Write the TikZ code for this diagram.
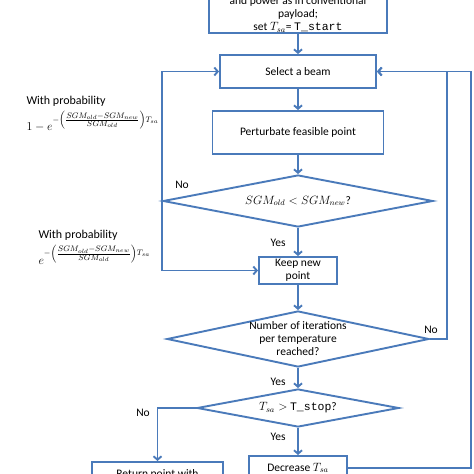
\documentclass[tikz,border=0pt]{standalone}
\usepackage{fontspec}
\setmainfont{Carlito}
\setmonofont{Liberation Mono}
\usepackage{xcolor}
\usetikzlibrary{backgrounds,calc,positioning}
\usetikzlibrary{shapes.geometric,arrows.meta}

\definecolor{flowblue}{RGB}{74,122,186}
\tikzset{
	box/.style = {draw=flowblue, line width=1.9pt, fill=white, align=center, inner sep=2pt},
	decision/.style = {diamond, draw=flowblue, line width=1.9pt, fill=white, align=center, inner sep=0pt, aspect=4.7},
	flow/.style = {draw=flowblue, line width=1.9pt, -{Straight Barb[length=3.5pt,width=8pt]}},
}
\newcommand{\sgmfrac}{\left(\frac{\scriptstyle SGM_{old}-SGM_{new}}{\scriptstyle SGM_{old}}\right)T_{sa}}

\begin{document}
\begin{tikzpicture}[x=1pt, y=1pt, font=\fontsize{11.5}{13}\selectfont]
		\useasboundingbox (0,0) rectangle (474,474);
		\begin{scope}
			% main column
			\node[box, anchor=south, inner ysep=0.5pt, minimum width=178] (init) at (298,440) {and power as in conventional\\payload;\\set $T_{sa}$= \texttt{T\_start}};
			\node[box, minimum width=156, minimum height=33] (sel) at (298,402.5) {Select a beam};
			\node[box, minimum width=171, minimum height=43] (pert) at (298,341.5) {Perturbate feasible point};
			\node[decision, minimum width=270, minimum height=52] (cmp) at (298,273) {$SGM_{old} < SGM_{new}$?};
			\node[box, minimum width=78, minimum height=27] (keep) at (298,203.5) {Keep new\\point};
			\node[decision, inner sep=-4pt, minimum width=262, minimum height=56] (iter) at (298,135) {Number of iterations\\per temperature\\reached?};
			\node[decision, minimum width=202, minimum height=38] (stop) at (298,66) {$T_{sa} >$ \texttt{T\_stop}?};
			\node[box, anchor=north, minimum width=98, minimum height=24] (dec) at (298,19) {Decrease $T_{sa}$};
			\node[box, anchor=north, minimum width=131, minimum height=24] (ret) at (157.5,13) {Return point with};

			% loop corners
			\coordinate (loopN) at (447,402.5);
			\coordinate (loopR) at (471,402.5);

			\draw[flow] (init) -- (sel);
			\draw[flow] (sel) -- (pert);
			\draw[flow] (pert) -- (cmp);
			\draw[flow] (cmp) -- (keep);
			\draw[flow] (keep) -- (iter);
			\draw[flow] (iter) -- (stop);
			\draw[flow] (stop) -- (dec);
			\draw[flow] (cmp.west) |- (sel.west);
			\draw[flow] (cmp.west) |- (keep.west);
			\draw[flow] (iter.east) -| (loopN) -- (sel.east);
			\draw[flow] (dec.east) -| (loopR) -- (sel.east);
			\draw[flow] (stop.west) -| (ret.north);

			\node (yes1) at (278,231) {Yes};
			\node (yes2) at (278,92) {Yes};
			\node (yes3) at (278,37) {Yes};
			\node (no1) at (182,289) {No};
			\node (no2) at (431,144) {No};
			\node (no3) at (143,61) {No};

			% acceptance probabilities
			\node[anchor=west, align=left, font=\fontsize{12}{15}\selectfont] (pacc) at (23,360) {With probability\\[4pt]$1-e^{-\sgmfrac}$};
			\node[anchor=west, align=left, font=\fontsize{12}{15}\selectfont] (pkeep) at (35,227) {With probability\\[4pt]$e^{-\sgmfrac}$};
		\end{scope}
	\end{tikzpicture}
\end{document}
